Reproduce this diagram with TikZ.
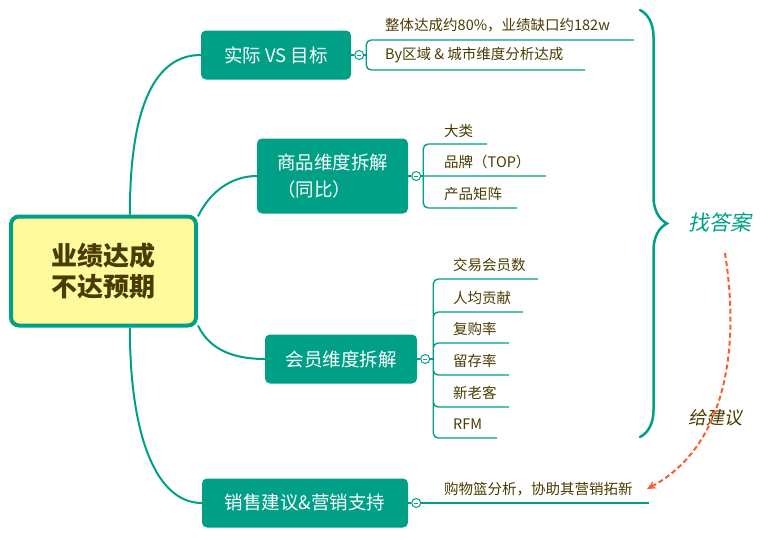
\documentclass[tikz,border=0pt]{standalone}
\usepackage{fontspec}
\setmainfont{Noto Sans CJK SC}
\newfontfamily\slantcjk{Noto Sans CJK SC}[FakeSlant=0.2]
\usetikzlibrary{arrows.meta,positioning,decorations.pathreplacing}
\definecolor{mmTeal}{HTML}{00A086}
\definecolor{rootFill}{HTML}{FFFA9C}
\definecolor{inkBrown}{HTML}{4A3B00}
\definecolor{hintOrange}{HTML}{FF5A30}
\tikzset{root box/.style={draw=mmTeal, line width=4pt, fill=rootFill, rounded corners=8pt, text=inkBrown, font=\bfseries\fontsize{26}{31}\selectfont, align=center, minimum width=185pt, minimum height=109pt}}
\tikzset{branch box/.style={fill=mmTeal, rounded corners=5pt, text=white, font=\fontsize{18.5}{27}\selectfont, minimum height=49pt, inner sep=0pt}}
\tikzset{knob/.style={circle, draw=mmTeal, fill=white, line width=1pt, minimum size=9pt, inner sep=0pt}}
\tikzset{leaf/.style={anchor=west, inner sep=0pt, text=inkBrown, font=\fontsize{14.5}{17}\selectfont}}
\tikzset{limb/.style={draw=mmTeal, line width=2pt}, twig/.style={draw=mmTeal, line width=1.4pt, rounded corners=5pt}}
\newcommand{\knobmark}{{\color{mmTeal!60!gray}\rule[-0.5pt]{4.5pt}{1pt}}}

\begin{document}
\begin{tikzpicture}[x=1pt, y=-1pt, >={Stealth[length=9pt,width=8pt]}, node distance=3pt]
\useasboundingbox (0,0) rectangle (771,539);
% centre and the four branches
\node[root box] at (103.5,271) (core) {业绩达成\\不达预期};
\node[branch box, minimum width=150pt] at (276,55) (br_1) {实际 VS 目标};
\node[branch box, minimum width=151pt, minimum height=75pt, align=left] at (332.5,176) (br_2) {商品维度拆解\\（同比）};
\node[branch box, minimum width=152pt] at (341,359) (br_3) {会员维度拆解};
\node[branch box, minimum width=206pt] at (305,503) (br_4) {销售建议\&营销支持};
\draw[limb] (core.65) .. controls +(0,-110) and +(-45,0) .. (br_1.west);
\draw[limb] (core.30) .. controls +(12,-25) and +(-25,0) .. (br_2.west);
\draw[limb] (core.-30) .. controls +(12,25) and +(-30,0) .. (br_3.west);
\draw[limb] (core.-65) .. controls +(0,110) and +(-45,0) .. (br_4.west);
\node[knob, right=of br_1] (knob_1) {\knobmark};
\node[knob, right=of br_2] (knob_2) {\knobmark};
\node[knob, right=of br_3] (knob_3) {\knobmark};
\node[knob, right=of br_4] (knob_4) {\knobmark};
\coordinate[right=2pt of knob_1.east] (fork_1);
\coordinate[right=2pt of knob_2.east] (fork_2);
\coordinate[right=3pt of knob_3.east] (fork_3);
% leaves
\node[leaf] at (385,25) (leaf_11) {整体达成约80\%，业绩缺口约182w};
\node[leaf] at (385,55) (leaf_12) {By区域 \& 城市维度分析达成};
\coordinate (end_11) at (634,40);
\coordinate (end_12) at (585,70);
\node[leaf] at (444,131) (leaf_21) {大类};
\node[leaf] at (444,162) (leaf_22) {品牌（TOP）};
\node[leaf] at (444,194) (leaf_23) {产品矩阵};
\coordinate (end_21) at (487,144);
\coordinate (end_22) at (546,176);
\coordinate (end_23) at (517,208);
\node[leaf] at (453,265) (leaf_31) {交易会员数};
\node[leaf] at (453,298) (leaf_32) {人均贡献};
\node[leaf] at (453,329) (leaf_33) {复购率};
\node[leaf] at (453,361) (leaf_34) {留存率};
\node[leaf] at (453,393) (leaf_35) {新老客};
\node[leaf] at (453,424) (leaf_36) {RFM};
\coordinate (end_31) at (538,279);
\coordinate (end_32) at (523,312);
\coordinate (end_33) at (509,343);
\coordinate (end_34) at (509,375);
\coordinate (end_35) at (509,407);
\coordinate (end_36) at (497,438);
\node[leaf] at (444,489) (leaf_41) {购物篮分析，协助其营销拓新};
\coordinate (end_41) at (649,503);
\draw[twig] (br_1) -- (knob_1) -- (fork_1);
\draw[twig] (fork_1) |- (end_11) (fork_1) |- (end_12);
\draw[twig] (br_2) -- (knob_2) -- (fork_2);
\draw[twig] (fork_2) |- (end_21) (fork_2) -- (end_22) (fork_2) |- (end_23);
\draw[twig] (br_3) -- (knob_3) -- (fork_3);
\draw[twig] (fork_3) |- (end_31) (fork_3) |- (end_32) (fork_3) |- (end_33);
\draw[twig] (fork_3) |- (end_34) (fork_3) |- (end_35) (fork_3) |- (end_36);
\draw[twig] (br_4) -- (knob_4) -- (end_41);
% brace and hint
\coordinate (brace_top) at (640,10);
\coordinate (brace_bot) at (640,437);
\draw[mmTeal, line width=2.5pt, line cap=round, decorate, decoration={brace, amplitude=27pt}] (brace_top) -- (brace_bot);
\node[text=mmTeal, font=\slantcjk\fontsize{21}{24}\selectfont] at (720,222) (answer) {找答案};
\node[text=inkBrown, font=\slantcjk\fontsize{18}{21}\selectfont] at (715,418) (advice) {给建议};
\coordinate[right=14pt of leaf_41.east] (hint_to);
\draw[hintOrange, line width=2pt, dash pattern=on 5pt off 3pt, ->, shorten <=18pt] (answer) .. controls (742,360) and (720,450) .. (hint_to);
\end{tikzpicture}
\end{document}
